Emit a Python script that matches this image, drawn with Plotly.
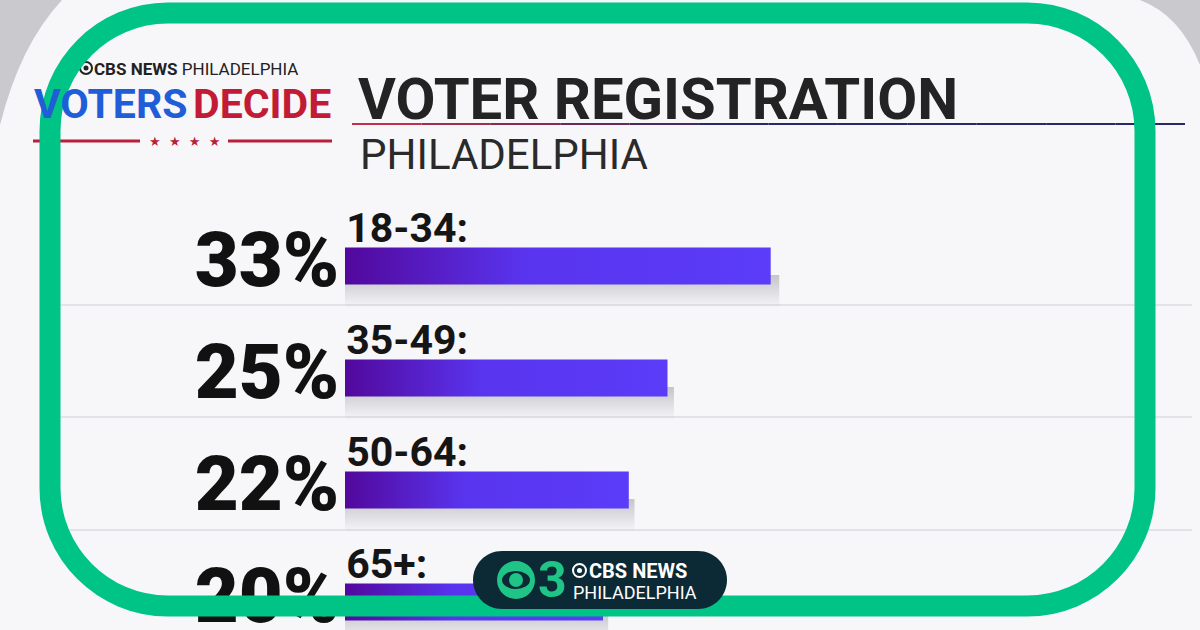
import plotly.graph_objects as go

# ---------------- data ----------------
age_groups = ["18-34:", "35-49:", "50-64:", "65+:"]
shares = [33, 25, 22, 20]
share_labels = ["33%", "25%", "22%", "20%"]
title_text = "VOTER REGISTRATION"
subtitle_text = "PHILADELPHIA"

W, H = 1200, 630
BAR_X0 = 345          # pixel where value 0 sits
PX_PER_PT = 12.9
X_LEFT = -1.0         # axis starts a little left of zero so the labels stay in range
ROW0, ROW_STEP = 266, 112
HALF = 0.165          # half bar height in row units


def px(x):
    return x / W


def py(y):
    return 1 - y / H


def rounded_path(L, T, R, B, r):
    k = 0.5523 * r
    pts = [
        f"M{px(L + r)},{py(T)}",
        f"L{px(R - r)},{py(T)}",
        f"C{px(R - r + k)},{py(T)} {px(R)},{py(T + r - k)} {px(R)},{py(T + r)}",
        f"L{px(R)},{py(B - r)}",
        f"C{px(R)},{py(B - r + k)} {px(R - r + k)},{py(B)} {px(R - r)},{py(B)}",
        f"L{px(L + r)},{py(B)}",
        f"C{px(L + r - k)},{py(B)} {px(L)},{py(B - r + k)} {px(L)},{py(B - r)}",
        f"L{px(L)},{py(T + r)}",
        f"C{px(L)},{py(T + r - k)} {px(L + r - k)},{py(T)} {px(L + r)},{py(T)}",
        "Z",
    ]
    return " ".join(pts)


fig = go.Figure()

# bar shadows + gradient bars (drawn from data values)
for i, v in enumerate(shares):
    fig.add_trace(go.Scatter(
        x=[0, v * 1.02, v * 1.02, 0, 0],
        y=[i + 0.08, i + 0.08, i + 0.38, i + 0.38, i + 0.08],
        mode="lines", line=dict(width=0), fill="toself",
        fillgradient=dict(type="vertical", start=i + 0.08, stop=i + 0.38,
                          colorscale=[[0, "rgba(70,70,80,0.28)"], [1, "rgba(70,70,80,0)"]]),
        hoverinfo="skip", showlegend=False))
    fig.add_trace(go.Scatter(
        x=[0, v, v, 0, 0],
        y=[i - HALF, i - HALF, i + HALF, i + HALF, i - HALF],
        mode="lines", line=dict(width=0), fill="toself",
        fillgradient=dict(type="horizontal",
                          colorscale=[[0, "#52089c"], [0.42, "#5934ee"], [1, "#5b3cf8"]]),
        hoverinfo="skip", showlegend=False, name=age_groups[i]))

# percent labels (left of bars)
fig.add_trace(go.Scatter(
    x=[-0.45] * len(shares), y=[i + 0.01 for i in range(len(shares))], mode="text",
    text=share_labels, textposition="middle left", cliponaxis=False,
    textfont=dict(family="Roboto", size=76, color="#111111", weight=900),
    hoverinfo="skip", showlegend=False))

# age group labels (above bars)
fig.add_trace(go.Scatter(
    x=[0.1] * len(shares), y=[i - 0.12 for i in range(len(shares))], mode="text",
    text=age_groups, textposition="top right", cliponaxis=False,
    textfont=dict(family="Roboto", size=41, color="#151515", weight=700),
    hoverinfo="skip", showlegend=False))

shapes = []
# grey studio edges
shapes.append(dict(type="path", xref="paper", yref="paper", layer="below",
                   path=f"M{px(0)},{py(0)} L{px(62)},{py(0)} Q{px(20)},{py(45)} {px(0)},{py(125)} Z",
                   fillcolor="#c9c9ce", line=dict(width=0)))
shapes.append(dict(type="path", xref="paper", yref="paper", layer="below",
                   path=f"M{px(1140)},{py(0)} L{px(1200)},{py(0)} L{px(1200)},{py(65)} Q{px(1180)},{py(15)} {px(1140)},{py(0)} Z",
                   fillcolor="#c9c9ce", line=dict(width=0)))
# separators
for yy in [305, 417, 530]:
    shapes.append(dict(type="line", xref="paper", yref="paper", layer="below",
                       x0=px(58), x1=px(1192), y0=py(yy), y1=py(yy),
                       line=dict(color="#e4e2e7", width=2)))
# title underline with red -> navy gradient
n_seg = 12
x_start, x_end = 352, 1185
for s in range(n_seg):
    t = min(1, (s / (n_seg - 1)) * 2.2)
    r = int(0xc0 + (0x2a - 0xc0) * t)
    g = int(0x30 + (0x28 - 0x30) * t)
    b = int(0x48 + (0x66 - 0x48) * t)
    xa = x_start + (x_end - x_start) * s / n_seg
    xb = x_start + (x_end - x_start) * (s + 1) / n_seg
    shapes.append(dict(type="line", xref="paper", yref="paper", layer="below",
                       x0=px(xa), x1=px(xb), y0=py(124), y1=py(124),
                       line=dict(color=f"rgb({r},{g},{b})", width=2)))
# logo lines
for xa, xb in [(33, 140), (228, 332)]:
    shapes.append(dict(type="line", xref="paper", yref="paper", layer="below",
                       x0=px(xa), x1=px(xb), y0=py(141), y1=py(141),
                       line=dict(color="#b71f3b", width=3)))
# small CBS eye in top logo
shapes.append(dict(type="circle", xref="paper", yref="paper", layer="below",
                   x0=px(80), x1=px(92), y0=py(62), y1=py(74),
                   line=dict(color="#222222", width=2), fillcolor="rgba(0,0,0,0)"))
shapes.append(dict(type="circle", xref="paper", yref="paper", layer="below",
                   x0=px(83.5), x1=px(88.5), y0=py(65.5), y1=py(70.5),
                   line=dict(width=0), fillcolor="#222222"))
# green frame
shapes.append(dict(type="path", xref="paper", yref="paper", layer="above",
                   path=rounded_path(50, 13, 1145, 606, 118),
                   line=dict(color="#00c486", width=21), fillcolor="rgba(0,0,0,0)"))
# bottom pill logo
shapes.append(dict(type="path", xref="paper", yref="paper", layer="above",
                   path=rounded_path(473, 551, 727, 609, 29),
                   line=dict(width=0), fillcolor="#0c2a35"))
# green eye
shapes.append(dict(type="circle", xref="paper", yref="paper", layer="above",
                   x0=px(497), x1=px(535), y0=py(561), y1=py(599),
                   line=dict(width=0), fillcolor="#1fc486"))
shapes.append(dict(type="circle", xref="paper", yref="paper", layer="above",
                   x0=px(502), x1=px(530), y0=py(571), y1=py(589),
                   line=dict(width=0), fillcolor="#0c2a35"))
shapes.append(dict(type="circle", xref="paper", yref="paper", layer="above",
                   x0=px(509), x1=px(523), y0=py(573), y1=py(587),
                   line=dict(width=0), fillcolor="#1fc486"))
# small white eye
shapes.append(dict(type="circle", xref="paper", yref="paper", layer="above",
                   x0=px(573), x1=px(586), y0=py(564), y1=py(577),
                   line=dict(color="white", width=2), fillcolor="rgba(0,0,0,0)"))
shapes.append(dict(type="circle", xref="paper", yref="paper", layer="above",
                   x0=px(577), x1=px(582), y0=py(568), y1=py(573),
                   line=dict(width=0), fillcolor="white"))

annotations = [
    dict(text=f"<b>{title_text}</b>", x=px(356), y=py(99), xanchor="left", yanchor="middle",
         font=dict(family="Roboto", size=58, color="#232323")),
    dict(text=subtitle_text, x=px(358), y=py(154), xanchor="left", yanchor="middle",
         font=dict(family="Roboto", size=42, color="#2a2a2a")),
    dict(text="<b>CBS NEWS</b> PHILADELPHIA", x=px(92), y=py(69), xanchor="left", yanchor="middle",
         font=dict(family="Roboto", size=17, color="#222222")),
    dict(text="VOTERS", x=px(32), y=py(104), xanchor="left", yanchor="middle",
         font=dict(family="Roboto", size=41, color="#1f5ed6", weight=700)),
    dict(text="DECIDE", x=px(333), y=py(104), xanchor="right", yanchor="middle",
         font=dict(family="Roboto", size=41, color="#c21b36", weight=700)),
    dict(text="★  ★  ★  ★", x=px(184), y=py(141), xanchor="center", yanchor="middle",
         font=dict(family="DejaVu Sans", size=13, color="#b71f3b")),
    dict(text="<b>3</b>", x=px(552), y=py(580), xanchor="center", yanchor="middle",
         font=dict(family="Roboto", size=50, color="#1fc486")),
    dict(text="<b>CBS NEWS</b>", x=px(587), y=py(571), xanchor="left", yanchor="middle",
         font=dict(family="Roboto", size=20, color="white")),
    dict(text="PHILADELPHIA", x=px(571), y=py(592), xanchor="left", yanchor="middle",
         font=dict(family="Roboto", size=18, color="white")),
]
for a in annotations:
    a.update(xref="paper", yref="paper", showarrow=False)

x_dom0 = BAR_X0 + X_LEFT * PX_PER_PT
fig.update_layout(
    width=W, height=H, autosize=False,
    margin=dict(l=0, r=0, t=0, b=0, pad=0),
    paper_bgcolor="#f7f6f9", plot_bgcolor="rgba(0,0,0,0)",
    xaxis=dict(domain=[px(x_dom0), 1], range=[X_LEFT, (W - BAR_X0) / PX_PER_PT],
               visible=False, fixedrange=True),
    yaxis=dict(domain=[0, 1],
               range=[(H - ROW0) / ROW_STEP, -ROW0 / ROW_STEP],
               visible=False, fixedrange=True),
    shapes=shapes, annotations=annotations, showlegend=False,
)

fig.write_html("out.html", config=dict(displayModeBar=False))
